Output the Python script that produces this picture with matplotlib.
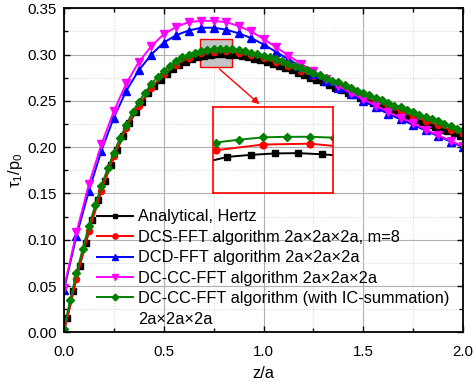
import numpy as np
import matplotlib
matplotlib.use("Agg")
from matplotlib import pyplot as plt
from matplotlib.lines import Line2D
from matplotlib.patches import Rectangle
from matplotlib.ticker import MultipleLocator, FormatStrFormatter

plt.rcParams['font.family'] = ['Liberation Sans', 'DejaVu Sans']
plt.rcParams['mathtext.fontset'] = 'custom'
plt.rcParams['mathtext.rm'] = 'Liberation Sans'
plt.rcParams['mathtext.it'] = 'Liberation Sans:italic'

# sampling along z/a for each series
z_hertz = np.linspace(0.015625, 1.984375, 64)
z_fine = np.linspace(0, 2, 65)
z_coarse = np.linspace(0, 2, 33)

hertz = [0.015, 0.045, 0.072, 0.097, 0.121, 0.143, 0.163, 0.181, 0.197, 0.212,
         0.226, 0.238, 0.249, 0.258, 0.266, 0.273, 0.279, 0.284, 0.289, 0.292,
         0.295, 0.297, 0.299, 0.2997, 0.3002, 0.3003, 0.2999, 0.2993, 0.2983, 0.297,
         0.2955, 0.294, 0.292, 0.290, 0.288, 0.285, 0.283, 0.280, 0.278, 0.275,
         0.273, 0.270, 0.267, 0.264, 0.262, 0.259, 0.256, 0.253, 0.251, 0.248,
         0.245, 0.242, 0.240, 0.237, 0.234, 0.232, 0.229, 0.227, 0.224, 0.222,
         0.219, 0.217, 0.215, 0.212]

dcs = [0.000, 0.058, 0.109, 0.153, 0.190, 0.221, 0.245, 0.264, 0.279, 0.289,
       0.2965, 0.3013, 0.3033, 0.3036, 0.302, 0.2995, 0.296, 0.292, 0.2875, 0.2825,
       0.277, 0.2717, 0.266, 0.2605, 0.255, 0.2495, 0.244, 0.2388, 0.2336, 0.2285,
       0.2236, 0.2188, 0.214]

dcd = [0.046, 0.104, 0.153, 0.196, 0.232, 0.261, 0.283, 0.300, 0.313, 0.321,
       0.326, 0.329, 0.329, 0.327, 0.323, 0.318, 0.311, 0.303, 0.295, 0.287,
       0.279, 0.271, 0.264, 0.257, 0.250, 0.243, 0.236, 0.230, 0.224, 0.218,
       0.212, 0.206, 0.200]

dccc = [0.048, 0.108, 0.160, 0.203, 0.239, 0.269, 0.292, 0.309, 0.322, 0.330,
        0.335, 0.3365, 0.3365, 0.335, 0.331, 0.325, 0.317, 0.308, 0.299, 0.290,
        0.282, 0.274, 0.266, 0.259, 0.252, 0.245, 0.238, 0.232, 0.226, 0.219,
        0.213, 0.207, 0.201]

dccc_ic = [0.004, 0.035, 0.064, 0.090, 0.115, 0.137, 0.158, 0.177, 0.194, 0.210,
           0.224, 0.238, 0.249, 0.259, 0.268, 0.276, 0.282, 0.288, 0.293, 0.297,
           0.300, 0.302, 0.304, 0.305, 0.3058, 0.306, 0.306, 0.3057, 0.305, 0.304,
           0.302, 0.301, 0.299, 0.297, 0.295, 0.293, 0.290, 0.288, 0.285, 0.283,
           0.280, 0.278, 0.275, 0.272, 0.270, 0.267, 0.264, 0.261, 0.258, 0.256,
           0.253, 0.251, 0.248, 0.245, 0.243, 0.240, 0.238, 0.235, 0.233, 0.230,
           0.228, 0.225, 0.223, 0.220, 0.218]

labels = ["Analytical, Hertz",
          "DCS-FFT algorithm 2a\u00d72a\u00d72a, m=8",
          "DCD-FFT algorithm 2a\u00d72a\u00d72a",
          "DC-CC-FFT algorithm 2a\u00d72a\u00d72a",
          "DC-CC-FFT algorithm (with IC-summation)",
          "2a\u00d72a\u00d72a"]

# zoomed window shown in the inset
zoom_x = (0.684, 0.842)
zoom_y = (0.2865, 0.3165)

W, H = 474, 382
fig = plt.figure(figsize=(W / 100, H / 100), dpi=100)
ax = fig.add_axes([64 / W, 1 - 332.3 / H, 399 / W, 324 / H])


def draw_series(a, ms_scale=1.0):
    a.plot(z_hertz, hertz, color='black', marker='s', ms=3.8 * ms_scale, lw=1.4, label=labels[0])
    a.plot(z_coarse, dcs, color='red', marker='o', ms=4.4 * ms_scale, lw=1.4, label=labels[1])
    if a is ax:
        a.plot(z_coarse, dcd, color='blue', marker='^', ms=5.2, lw=1.4, label=labels[2])
        a.plot(z_coarse, dccc, color='magenta', marker='v', ms=5.2, lw=1.4, label=labels[3])
    a.plot(z_fine, dccc_ic, color='green', marker='D', ms=4 * ms_scale, lw=1.4, label=labels[4])


draw_series(ax)

ax.set_xlim(0, 2)
ax.set_ylim(0, 0.35)
ax.xaxis.set_major_locator(MultipleLocator(0.5))
ax.xaxis.set_minor_locator(MultipleLocator(0.25))
ax.yaxis.set_major_locator(MultipleLocator(0.05))
ax.yaxis.set_minor_locator(MultipleLocator(0.025))
ax.xaxis.set_major_formatter(FormatStrFormatter('%.1f'))
ax.yaxis.set_major_formatter(FormatStrFormatter('%.2f'))
ax.tick_params(which='both', direction='in', top=True, right=True, labelsize=10.8, width=1)
ax.tick_params(which='major', length=4.5)
ax.tick_params(which='minor', length=3)
ax.tick_params(axis='x', which='major', pad=9)
ax.tick_params(axis='y', which='major', pad=5)
ax.grid(which='major', color='#b0b0b0', lw=0.8)
ax.grid(which='minor', color='#d4d4d4', lw=0.7, ls=':')
ax.set_axisbelow(True)
for sp in ax.spines.values():
    sp.set_linewidth(1.3)

ax.set_xlabel('z/a', fontsize=11.8, labelpad=5)
ax.set_ylabel(r'$\mathregular{\tau_1/p_0}$', fontsize=11.8, labelpad=2)

# gray box marking the zoomed window
ax.add_patch(Rectangle((zoom_x[0], zoom_y[0]), zoom_x[1] - zoom_x[0], zoom_y[1] - zoom_y[0],
                       facecolor='#c4c4c4', edgecolor='red', lw=1, zorder=1.5))
ax.annotate('', xy=(0.99, 0.2445), xytext=(0.768, zoom_y[0]),
            arrowprops=dict(arrowstyle='-|>', color='red', lw=1, mutation_scale=10))

handles, _ = ax.get_legend_handles_labels()
handles.append(Line2D([], [], linestyle='none'))
ax.legend(handles, labels, loc='upper left', bbox_to_anchor=(96.7 / W, 1 - 209.5 / H),
          bbox_transform=fig.transFigure, frameon=False, fontsize=11.8,
          handlelength=2.2, handletextpad=0.3, labelspacing=0.33, borderpad=0,
          borderaxespad=0, markerscale=0.85)

# inset
ins = fig.add_axes([213 / W, 1 - 192.7 / H, 119.5 / W, 86 / H])
ins.set_facecolor('none')
draw_series(ins, ms_scale=1.1)
ins.set_xlim(*zoom_x)
ins.set_ylim(*zoom_y)
ins.set_xticks([])
ins.set_yticks([])
for sp in ins.spines.values():
    sp.set_color('red')
    sp.set_linewidth(1.2)

fig.savefig('out.png', dpi=100)
